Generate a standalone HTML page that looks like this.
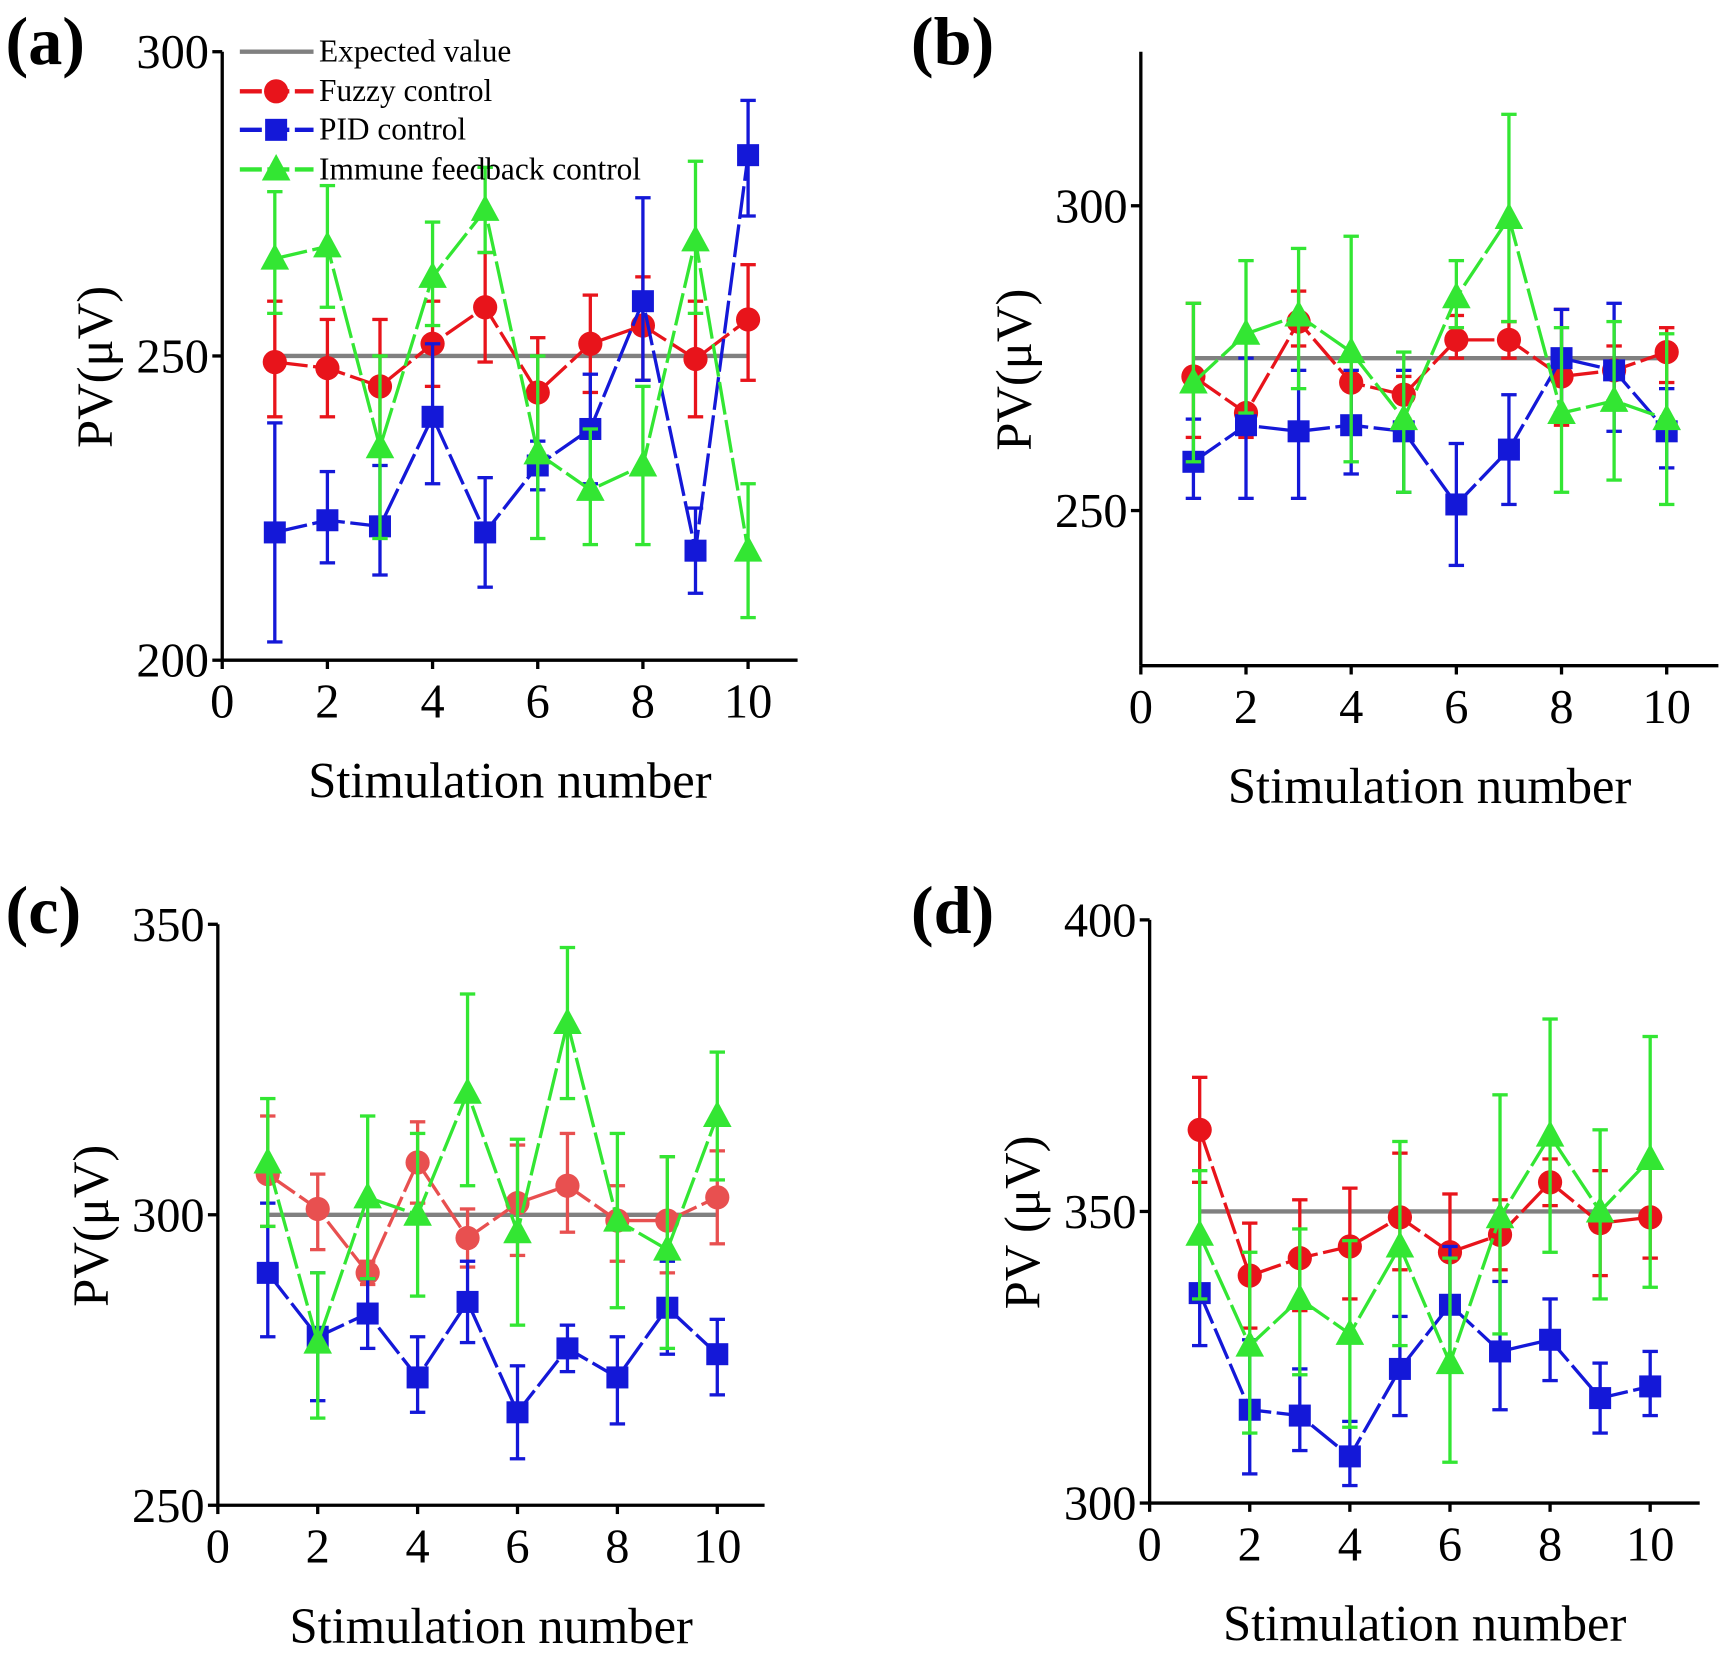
<!DOCTYPE html>
<html><head><meta charset="utf-8"><style>
html,body{margin:0;padding:0;background:#fff;}
svg{display:block;}
text{font-family:"Liberation Serif",serif;fill:#000;}
</style></head><body>
<svg id="s" width="1725" height="1656" viewBox="0 0 1568 1505" preserveAspectRatio="none" xmlns="http://www.w3.org/2000/svg"></svg>
<script>
const S=document.getElementById('s');
let h='';
const R='#e8141b',B='#1418d8',G='#33e633',GR='#808080';
function panel(p){
  const X=v=>p.x0+v*p.xs, Y=v=>p.y0-(v-p.v0)*p.ys;
  h+=`<line x1="${p.x0}" y1="${p.ytop}" x2="${p.x0}" y2="${p.yb}" stroke="#000" stroke-width="3"/>`;
  h+=`<line x1="${p.x0}" y1="${p.yb}" x2="${p.xend}" y2="${p.yb}" stroke="#000" stroke-width="3"/>`;
  for(let i=0;i<=10;i+=2){h+=`<line x1="${X(i)}" y1="${p.yb}" x2="${X(i)}" y2="${p.yb+8}" stroke="#000" stroke-width="3"/>`;
    h+=`<text x="${X(i)}" y="${p.yb+52}" font-size="44" text-anchor="middle">${i}</text>`;}
  p.yt.forEach(v=>{h+=`<line x1="${p.x0-9}" y1="${Y(v)}" x2="${p.x0}" y2="${Y(v)}" stroke="#000" stroke-width="3"/>`;
    h+=`<text x="${p.x0-12}" y="${Y(v)+15}" font-size="44" text-anchor="end">${v}</text>`;});
  h+=`<text x="${(p.x0+p.xend)/2}" y="${p.yb+125}" font-size="46" text-anchor="middle">Stimulation number</text>`;
  h+=`<text transform="translate(${p.x0-100},${(p.ytop+p.yb)/2+10}) rotate(-90)" font-size="46" text-anchor="middle">${p.ylab}</text>`;
  h+=`<text x="${p.lx}" y="${p.ly}" font-size="62" font-weight="bold">${p.lab}</text>`;
  h+=`<line x1="${X(1)}" y1="${Y(p.exp)}" x2="${X(10)}" y2="${Y(p.exp)}" stroke="${GR}" stroke-width="4"/>`;
  const ser=[[p.r,p.rc||R,'c'],[p.b,B,'s'],[p.g,G,'t']];
  ser.forEach(([d,c,m])=>{
    let pts=d.map((e,i)=>X(i+1)+','+Y(e[0])).join(' ');
    h+=`<polyline points="${pts}" fill="none" stroke="${c}" stroke-width="3" stroke-dasharray="30,5"/>`;
    d.forEach((e,i)=>{const x=X(i+1);
      h+=`<line x1="${x}" y1="${Y(e[1])}" x2="${x}" y2="${Y(e[2])}" stroke="${c}" stroke-width="3"/>`;
      h+=`<line x1="${x-7}" y1="${Y(e[1])}" x2="${x+7}" y2="${Y(e[1])}" stroke="${c}" stroke-width="3"/>`;
      h+=`<line x1="${x-7}" y1="${Y(e[2])}" x2="${x+7}" y2="${Y(e[2])}" stroke="${c}" stroke-width="3"/>`;
    });
    d.forEach((e,i)=>{const x=X(i+1),y=Y(e[0]);
      if(m=='c')h+=`<circle cx="${x}" cy="${y}" r="11" fill="${c}"/>`;
      else if(m=='s')h+=`<rect x="${x-10}" y="${y-10}" width="20" height="20" fill="${c}"/>`;
      else h+=`<polygon points="${x},${y-14} ${x-13},${y+10} ${x+13},${y+10}" fill="${c}"/>`;
    });
  });
}
panel({x0:202,xs:47.8,y0:600,v0:200,ys:5.53,ytop:47,yb:600,xend:725,yt:[200,250,300],ylab:'PV(μV)',lab:'(a)',lx:5,ly:58,exp:250,
 r:[[249,240,259],[248,240,256],[245,234,256],[252,245,259],[258,249,267],[244,234,253],[252,244,260],[255,246,263],[249.5,240,259],[256,246,265]],
 b:[[221,203,239],[223,216,231],[222,214,232],[240,229,252],[221,212,230],[232,228,236],[238,229,247],[259,246,276],[218,211,225],[283,273,292]],
 g:[[266,257,277],[268,258,278],[235,220,250],[263,255,272],[274,267,281],[234,220,250],[228,219,238],[232,219,245],[269,257,282],[218,207,229]]});
panel({x0:1037,xs:47.8,y0:464,v0:250,ys:5.54,ytop:47,yb:605,xend:1562,yt:[250,300],ylab:'PV(μV)',lab:'(b)',lx:828,ly:58,exp:275,
 r:[[272,262,284],[266,262,267],[281,277,286],[271,265,275],[269,265,272],[278,275,282],[278,275,281],[272,264,283],[273,268,277],[276,271,280]],
 b:[[258,252,265],[264,252,275],[263,252,273],[264,256,273],[263,253,273],[251,241,261],[260,251,269],[275,266,283],[273,263,284],[263,257,270]],
 g:[[271,258,284],[279,266,291],[282,270,293],[276,258,295],[265,253,276],[285,280,291],[298,281,315],[266,253,280],[268,255,281],[265,251,279]]});
panel({x0:198,xs:45.4,y0:1368,v0:250,ys:5.28,ytop:840,yb:1368,xend:695,yt:[250,300,350],ylab:'PV(μV)',lab:'(c)',lx:5,ly:848,exp:300,rc:'#e85050',
 r:[[307,298,317],[301,294,307],[290,288,292],[309,302,316],[296,291,301],[302,293,312],[305,297,314],[299,292,305],[299,290,310],[303,295,311]],
 b:[[290,279,302],[279,268,290],[283,277,289],[272,266,279],[285,278,292],[266,258,274],[277,273,281],[272,264,279],[284,276,292],[276,269,282]],
 g:[[309,298,320],[278,265,290],[303,289,317],[300,286,314],[321,305,338],[297,281,313],[333,320,346],[299,284,314],[294,277,310],[317,306,328]]});
panel({x0:1045,xs:45.5,y0:1366,v0:300,ys:5.3,ytop:836,yb:1366,xend:1545,yt:[300,350,400],ylab:'PV (μV)',lab:'(d)',lx:828,ly:848,exp:350,
 r:[[364,355,373],[339,330,348],[342,333,352],[344,335,354],[349,340,360],[343,333,353],[346,340,352],[355,351,359],[348,339,357],[349,342,358]],
 b:[[336,327,345],[316,305,328],[315,309,323],[308,303,314],[323,315,332],[334,323,344],[326,316,338],[328,321,335],[318,312,324],[320,315,326]],
 g:[[346,335,357],[327,312,343],[335,322,347],[329,313,345],[344,327,362],[324,307,342],[349,329,370],[363,343,383],[350,335,364],[359,337,380]]});
const L=[[47,GR,'','Expected value'],[83,R,'c','Fuzzy control'],[118,B,'s','PID control'],[154,G,'t','Immune feedback control']];
L.forEach(([y,c,m,t])=>{
  h+=`<line x1="218" y1="${y}" x2="285" y2="${y}" stroke="${c}" stroke-width="4" ${m?'stroke-dasharray="20,5"':''}/>`;
  if(m=='c')h+=`<circle cx="251" cy="${y}" r="11" fill="${c}"/>`;
  if(m=='s')h+=`<rect x="241" y="${y-10}" width="20" height="20" fill="${c}"/>`;
  if(m=='t')h+=`<polygon points="251,${y-14} 238,${y+10} 264,${y+10}" fill="${c}"/>`;
  h+=`<text x="290" y="${y+9}" font-size="28.5">${t}</text>`;
});
S.innerHTML=h;
</script>
</body></html>
